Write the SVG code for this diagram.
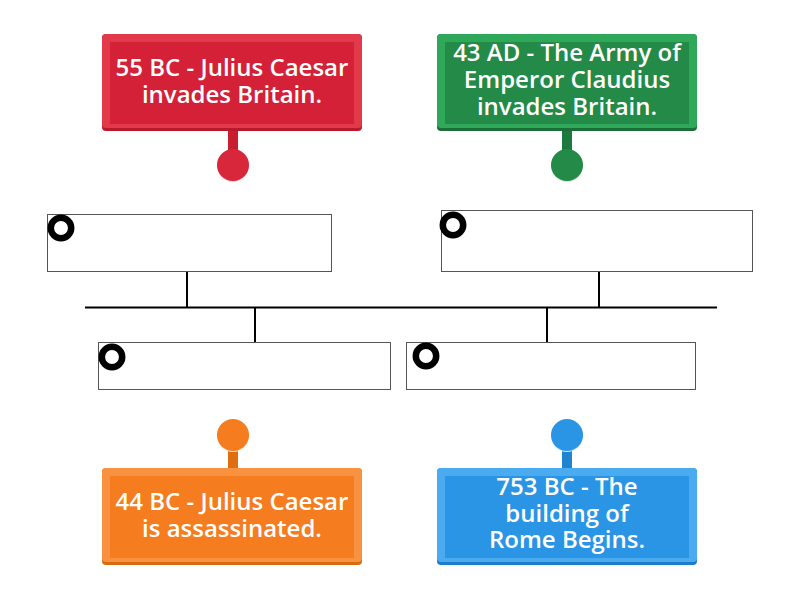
<svg xmlns="http://www.w3.org/2000/svg" width="800" height="600" viewBox="0 0 800 600">
<style>
.t{font-family:"Open Sans","Liberation Sans",sans-serif;font-weight:600;font-size:24px;fill:#fff;text-anchor:middle}
.box{fill:#fff;stroke:#555;stroke-width:1}
.ring{fill:#fff;stroke:#000;stroke-width:6.5}
.ln{stroke:#000;stroke-width:2;fill:none}
</style>
<rect width="800" height="600" fill="#fff"/>
<g id="connectors">
<line class="ln" x1="85" y1="307.5" x2="717" y2="307.5"/>
<line class="ln" x1="187" y1="272" x2="187" y2="307"/>
<line class="ln" x1="599" y1="272" x2="599" y2="307"/>
<line class="ln" x1="255" y1="307" x2="255" y2="342"/>
<line class="ln" x1="547" y1="307" x2="547" y2="342"/>
</g>
<g id="box-top-left"><rect class="box" x="47.5" y="214.5" width="284" height="57"/><circle class="ring" cx="61" cy="228" r="10.2"/></g>
<g id="box-top-right"><rect class="box" x="441.5" y="210.5" width="311" height="61"/><circle class="ring" cx="453" cy="225" r="10.2"/></g>
<g id="box-bottom-left"><rect class="box" x="98.5" y="342.5" width="292" height="47"/><circle class="ring" cx="112" cy="357" r="10.2"/></g>
<g id="box-bottom-right"><rect class="box" x="406.5" y="342.5" width="289" height="47"/><circle class="ring" cx="426" cy="356" r="10.2"/></g>
<g id="card-red">
<rect x="228" y="128" width="10" height="25" fill="#c81e30"/>
<circle cx="233" cy="166" r="16" fill="#f0d0d4"/>
<circle cx="233" cy="165" r="16" fill="#d8263a"/>
<rect x="102" y="34" width="260" height="97" rx="4" fill="#b81a2c"/>
<rect x="102" y="34" width="260" height="94" rx="4" fill="#e2394b"/>
<rect x="110" y="42" width="244" height="82" fill="#d42137"/>
<text class="t" x="232" y="76">55 BC - Julius Caesar</text>
<text class="t" x="232" y="103">invades Britain.</text>
</g>
<g id="card-green">
<rect x="562" y="128" width="10" height="25" fill="#1d7a3e"/>
<circle cx="567" cy="166" r="16" fill="#d0e8d8"/>
<circle cx="567" cy="165" r="16" fill="#238a47"/>
<rect x="437" y="34" width="260" height="97" rx="4" fill="#1a6e38"/>
<rect x="437" y="34" width="260" height="94" rx="4" fill="#2fa85a"/>
<rect x="445" y="42" width="244" height="82" fill="#238a47"/>
<text class="t" x="567" y="61">43 AD - The Army of</text>
<text class="t" x="567" y="88">Emperor Claudius</text>
<text class="t" x="567" y="115">invades Britain.</text>
</g>
<g id="card-orange">
<rect x="228" y="447" width="10" height="24" fill="#e06e10"/>
<circle cx="233" cy="436" r="16" fill="#fbe0cc"/>
<circle cx="233" cy="435" r="16" fill="#f57c1f"/>
<rect x="102" y="468" width="260" height="97" rx="4" fill="#d86a10"/>
<rect x="102" y="468" width="260" height="94" rx="4" fill="#f99240"/>
<rect x="110" y="476" width="244" height="82" fill="#f57c1f"/>
<text class="t" x="232" y="510">44 BC - Julius Caesar</text>
<text class="t" x="232" y="537">is assassinated.</text>
</g>
<g id="card-blue">
<rect x="562" y="447" width="10" height="24" fill="#1f84d0"/>
<circle cx="567" cy="436" r="16" fill="#d0e6f8"/>
<circle cx="567" cy="435" r="16" fill="#2a95e4"/>
<rect x="437" y="468" width="260" height="97" rx="4" fill="#1c7cc8"/>
<rect x="437" y="468" width="260" height="94" rx="4" fill="#4aabf0"/>
<rect x="445" y="476" width="244" height="82" fill="#2a95e4"/>
<text class="t" x="567" y="495">753 BC - The</text>
<text class="t" x="567" y="522">building of</text>
<text class="t" x="567" y="548">Rome Begins.</text>
</g>
</svg>
